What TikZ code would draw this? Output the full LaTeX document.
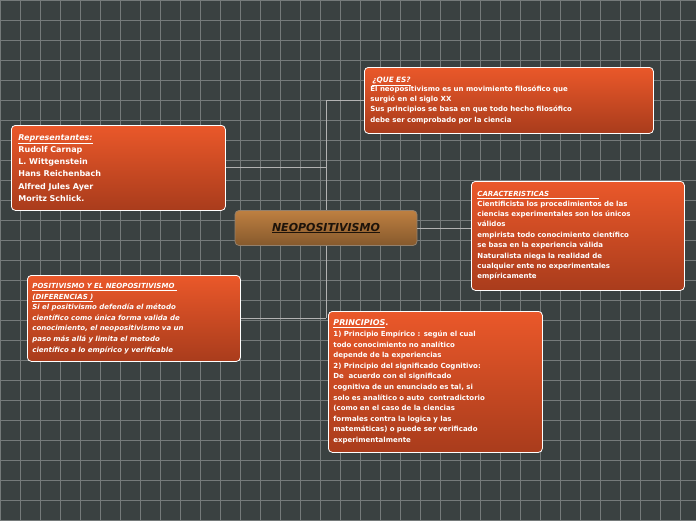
\documentclass[tikz,border=0pt]{standalone}
\usepackage{fontspec}
\setmainfont{DejaVu Sans}
\newcommand\myul[1]{\underline{#1}}
\begin{document}
\begin{tikzpicture}[x=1pt,y=-1pt,
  box/.style={draw=white,line width=0.8pt,rounded corners=4pt,top color=orange1,bottom color=orange2,
    text=white,font=\fontsize{7.3}{10.4}\selectfont\bfseries,align=left,anchor=north west,inner sep=0pt},
  link/.style={draw=gray!60,line width=0.7pt}]
\definecolor{bg}{HTML}{3A4141}
\definecolor{orange1}{HTML}{EA582A}
\definecolor{orange2}{HTML}{A93C1C}
\useasboundingbox (0,0) rectangle (696,520);
\fill[bg] (0,0) rectangle (696,520);
\foreach \i in {0,20,...,700} {\draw[white!30!bg,line width=0.3pt] (\i,0) -- (\i,520);}
\foreach \i in {0,20,...,520} {\draw[white!30!bg,line width=0.3pt] (0,\i) -- (696,\i);}
% trunk
\coordinate (t1) at (326,100);
\coordinate (t2) at (326,318);
\draw[link] (t1) -- (t2);
\node[box,minimum width=289pt,minimum height=66pt,text width=277pt] (que) at (364,67) {\hspace*{2pt}\textit{\myul{¿QUE ES?}}\\[-1pt]\fontsize{7}{10}\selectfont El neopositivismo es un movimiento filosófico que\\surgió en el siglo XX\\Sus principios se basa en que todo hecho filosófico\\debe ser comprobado por la ciencia};
\node[box,minimum width=214pt,minimum height=85pt,text width=200pt,font=\fontsize{8}{12.2}\selectfont\bfseries] (rep) at (11,125) {\textit{\myul{Representantes:}}\\ *Rudolf Carnap\\ *L. Wittgenstein\\ *Hans Reichenbach\\ *Alfred Jules Ayer\\ *Moritz Schlick.};
\node[box,minimum width=213pt,minimum height=109pt,text width=201pt,font=\fontsize{7}{10.4}\selectfont\bfseries] (car) at (471,181) {\textit{\myul{CARACTERISTICAS\hspace{50pt}}}\\[-1pt] Cientificista los procedimientos de las\\ciencias experimentales son los únicos\\válidos\\empirista todo conocimiento científico\\se basa en la experiencia válida\\Naturalista niega la realidad de\\cualquier ente no experimentales\\empíricamente};
\node[box,minimum width=213pt,minimum height=86pt,text width=203pt,font=\fontsize{7}{10.6}\selectfont\bfseries\itshape] (pos) at (27,275) {\myul{POSITIVISMO Y EL NEOPOSITIVISMO }\\\myul{(DIFERENCIAS )}\\Si el positivismo defendía el método\\científico como única forma valida de\\conocimiento, el neopositivismo va un\\paso más allá y limita el metodo\\científico a lo empírico y verificable};
\node[box,minimum width=214pt,minimum height=141pt,text width=204pt,font=\fontsize{7}{10.6}\selectfont\bfseries] (pri) at (328,311) {{\fontsize{8}{11}\selectfont\textit{\myul{PRINCIPIOS}}.}\\1) Principio Empírico : según el cual\\todo conocimiento no analítico\\depende de la experiencias\\2) Principio del significado Cognitivo:\\De\ \ acuerdo con el significado\\cognitiva de un enunciado es tal, si\\solo es analítico o auto\ \ contradictorio\\(como en el caso de la ciencias\\formales contra la logica y las\\matemáticas) o puede ser verificado\\experimentalmente};
\node[draw=gray!70!brown,line width=0.8pt,rounded corners=4pt,top color=brown!60!orange!70!gray,bottom color=brown!70!black,
  minimum width=182pt,minimum height=35pt,font=\fontsize{11}{13}\selectfont\bfseries\itshape,text=black!85!brown] (c) at (326,228) {\myul{NEOPOSITIVISMO}};
\draw[link] (que.west |- 0,100) -- (t1);
\draw[link] (rep.east |- 0,167) -- (326,167);
\draw[link] (pos.east |- 0,318) -- (t2);
\draw[link] (c.east) -- (car.west |- c.east);
\end{tikzpicture}
\end{document}
